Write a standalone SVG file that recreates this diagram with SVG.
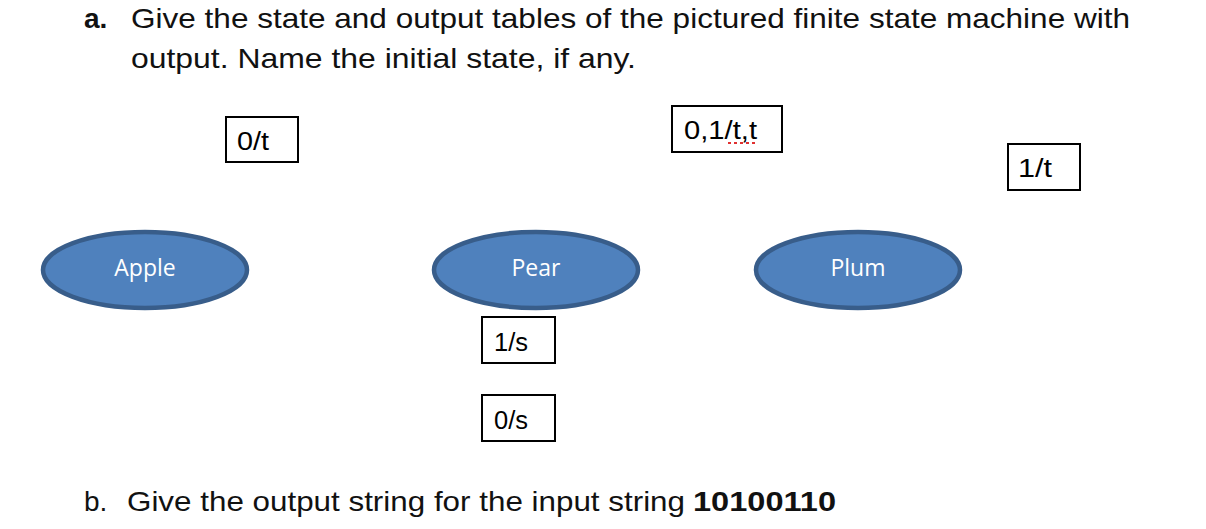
<svg xmlns="http://www.w3.org/2000/svg" width="1206" height="529" viewBox="0 0 1206 529">
<style>
.t{font-family:"Liberation Sans",Arial,sans-serif;font-size:28px;fill:#111}
.b{font-weight:bold}
.box rect{fill:#fff;stroke:#000;stroke-width:2}
.box text{font-family:"Liberation Sans",Arial,sans-serif;font-size:25px;fill:#000}
.st ellipse{fill:#4F81BD;stroke:#385D8A;stroke-width:4.5}
.st text{font-family:"Open Sans","Liberation Sans",sans-serif;font-size:23px;fill:#fff;text-anchor:middle}
</style>
<rect width="1206" height="529" fill="#fff"/>
<g id="title">
<text class="t b" x="84" y="28">a.</text>
<text class="t" x="131" y="28" textLength="999" lengthAdjust="spacingAndGlyphs">Give the state and output tables of the pictured finite state machine with</text>
<text class="t" x="131" y="68" textLength="505" lengthAdjust="spacingAndGlyphs">output. Name the initial state, if any.</text>
</g>
<g id="connectors"></g>
<g id="apple" class="st"><ellipse cx="145" cy="270" rx="102" ry="38"/><text x="145" y="276">Apple</text></g>
<g id="pear" class="st"><ellipse cx="536" cy="270" rx="102" ry="38"/><text x="536" y="276">Pear</text></g>
<g id="plum" class="st"><ellipse cx="858" cy="270" rx="102" ry="38"/><text x="858" y="276">Plum</text></g>
<g id="lbl-0t" class="box"><rect x="226" y="117" width="72" height="45"/><text x="237" y="150" textLength="32" lengthAdjust="spacingAndGlyphs">0/t</text></g>
<g id="lbl-01tt" class="box"><rect x="672" y="106" width="110" height="46"/><text x="684" y="139" textLength="73" lengthAdjust="spacingAndGlyphs">0,1/t,t</text>
<line x1="728" y1="143" x2="757" y2="143" stroke="#e03030" stroke-width="2" stroke-dasharray="3,3"/></g>
<g id="lbl-1t" class="box"><rect x="1008" y="144" width="72" height="46"/><text x="1018" y="177" textLength="34" lengthAdjust="spacingAndGlyphs">1/t</text></g>
<g id="lbl-1s" class="box"><rect x="482" y="317" width="73" height="46"/><text x="494" y="351" textLength="34" lengthAdjust="spacingAndGlyphs">1/s</text></g>
<g id="lbl-0s" class="box"><rect x="482" y="395" width="73" height="46"/><text x="494" y="429" textLength="34" lengthAdjust="spacingAndGlyphs">0/s</text></g>
<g id="partb">
<text class="t" x="84" y="511">b.</text>
<text class="t" x="127" y="511" textLength="558" lengthAdjust="spacingAndGlyphs">Give the output string for the input string</text>
<text class="t b" x="693" y="511" textLength="143" lengthAdjust="spacingAndGlyphs">10100110</text>
</g>
</svg>
